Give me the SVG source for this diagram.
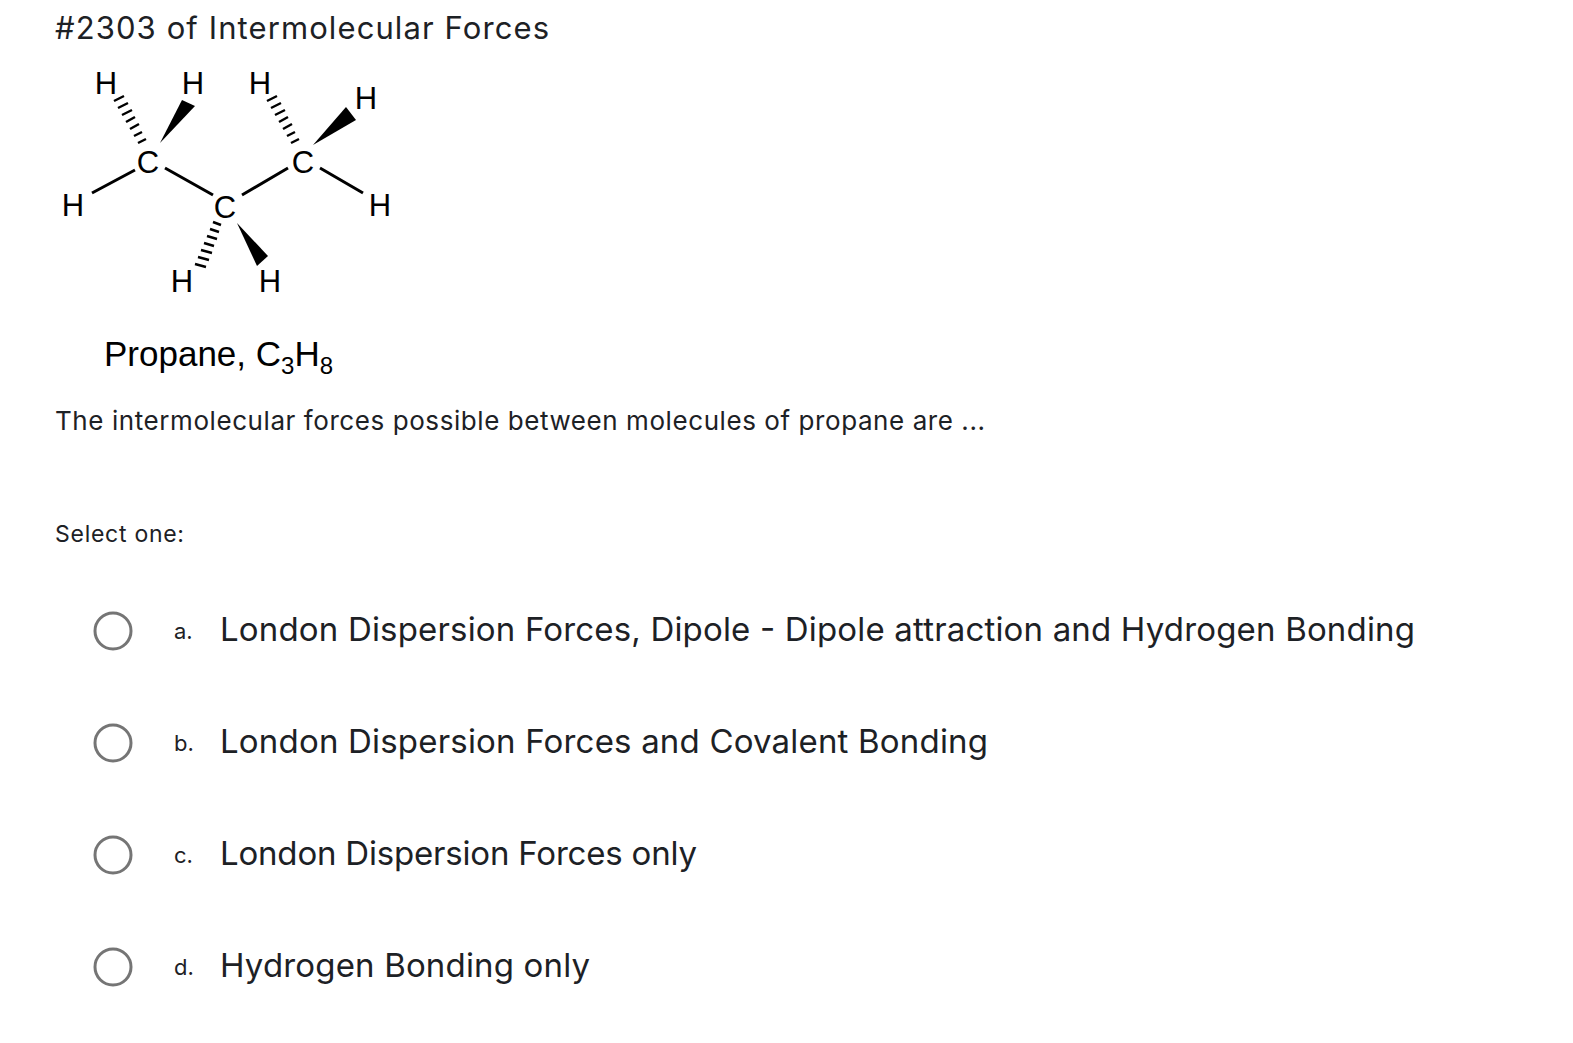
<svg xmlns="http://www.w3.org/2000/svg" width="1573" height="1043" viewBox="0 0 1573 1043">
<style>
.t{font-family:Inter,"Open Sans",sans-serif;fill:#1d2125}
.m{font-family:"Liberation Sans",Arial,sans-serif;font-size:31px;fill:#000;text-anchor:middle}
.b{stroke:#000;stroke-width:3;fill:none}
.h{stroke:#000;stroke-width:2.5;fill:none}
.r{fill:#fff;stroke:#757575;stroke-width:3}
</style>
<rect width="1573" height="1043" fill="#fff"/>
<text class="t" x="55" y="39" font-size="31" textLength="494">#2303 of Intermolecular Forces</text>
<g id="molecule">
<text class="m" x="148" y="173">C</text>
<text class="m" x="225" y="218">C</text>
<text class="m" x="303" y="173">C</text>
<text class="m" x="73" y="216">H</text>
<text class="m" x="106" y="94">H</text>
<text class="m" x="193" y="94">H</text>
<text class="m" x="260" y="94">H</text>
<text class="m" x="366" y="109">H</text>
<text class="m" x="380" y="216">H</text>
<text class="m" x="182" y="292">H</text>
<text class="m" x="270" y="292">H</text>
<path class="b" d="M92 193L135 170M165 168L213 195M242 195L288 168M320 168L363 193"/>
<polygon points="160,143 182,100 195,106"/>
<polygon points="313,145 346,107 356,120"/>
<polygon points="237,223 268,256 257,266"/>
<g class="h">
<path d="M138 143l8 -4M134 136l8 -4M130 129l9 -5M126 122l9 -5M122 115l10 -5M118 108l10 -5M114 101l10 -5"/>
<path d="M291 143l8 -4M287 136l8 -4M283 129l9 -5M279 122l9 -5M275 115l10 -5M271 108l10 -5M267 101l10 -5"/>
<path d="M213 222l8 3M210 229l9 3M207 236l10 3M204 243l10 3M201 250l11 3M198 257l11 3M195 264l11 3"/>
</g>
<text x="104" y="366" font-family="Liberation Sans,Arial,sans-serif" font-size="35">Propane, C<tspan font-size="24" dy="8">3</tspan><tspan dy="-8">H</tspan><tspan font-size="24" dy="8">8</tspan></text>
</g>
<text class="t" x="55" y="430" font-size="26" textLength="930">The intermolecular forces possible between molecules of propane are ...</text>
<text class="t" x="55" y="542" font-size="23" fill="#444" textLength="129">Select one:</text>
<g id="opt-a"><circle class="r" cx="113" cy="631" r="18"/><text class="t" x="174" y="639" font-size="22">a.</text><text class="t" x="220" y="641" font-size="33" textLength="1195">London Dispersion Forces, Dipole - Dipole attraction and Hydrogen Bonding</text></g>
<g id="opt-b"><circle class="r" cx="113" cy="743" r="18"/><text class="t" x="174" y="751" font-size="22">b.</text><text class="t" x="220" y="753" font-size="33" textLength="768">London Dispersion Forces and Covalent Bonding</text></g>
<g id="opt-c"><circle class="r" cx="113" cy="855" r="18"/><text class="t" x="174" y="863" font-size="22">c.</text><text class="t" x="220" y="865" font-size="33" textLength="477">London Dispersion Forces only</text></g>
<g id="opt-d"><circle class="r" cx="113" cy="967" r="18"/><text class="t" x="174" y="975" font-size="22">d.</text><text class="t" x="220" y="977" font-size="33" textLength="370">Hydrogen Bonding only</text></g>
</svg>
